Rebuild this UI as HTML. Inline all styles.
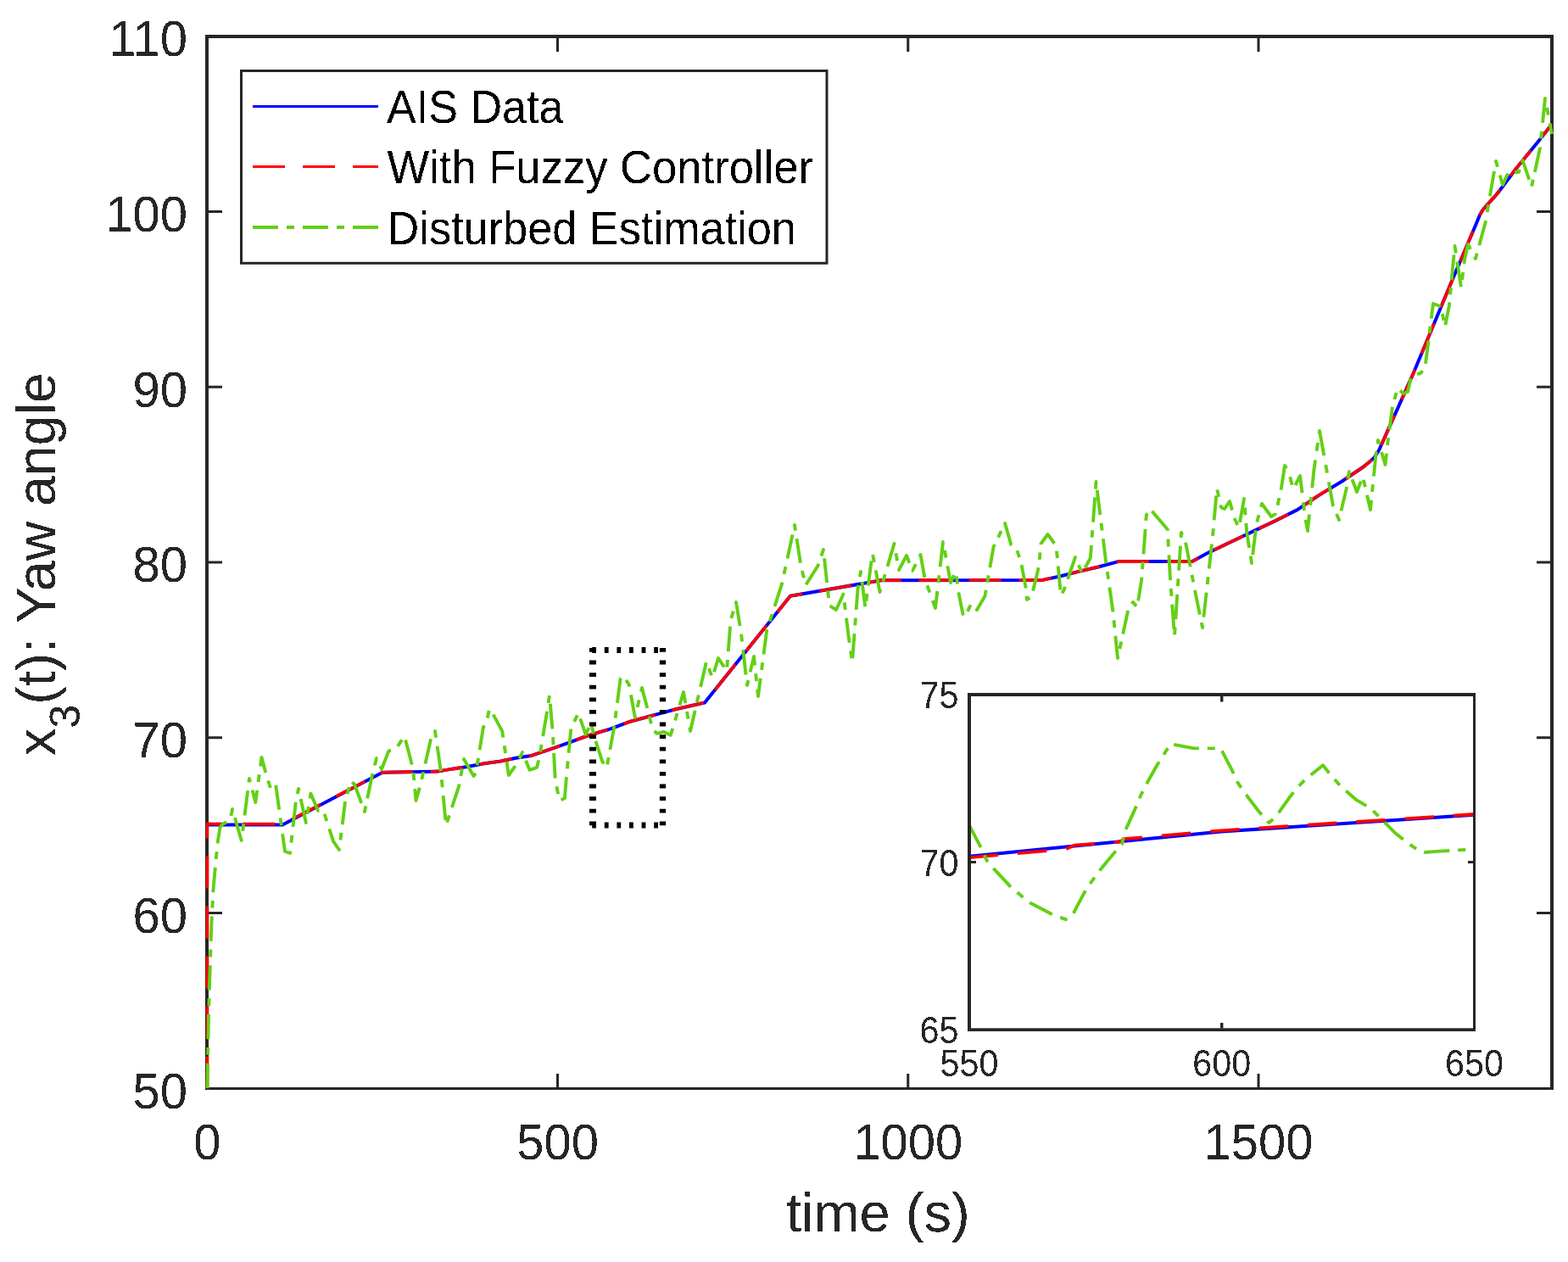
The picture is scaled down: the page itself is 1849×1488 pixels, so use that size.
<!DOCTYPE html><html><head><meta charset="utf-8"><title>x3(t): Yaw angle</title><style>html,body{margin:0;padding:0;background:#fff;overflow:hidden}svg{display:block}text{font-family:"Liberation Sans",Arial,Helvetica,sans-serif;filter:url(#bin)}</style></head><body>
<svg width="1849" height="1488" viewBox="0 0 1849 1488">
<rect x="0" y="0" width="1849" height="1488" fill="#fff"/>
<defs><filter id="bin" x="-5%" y="-5%" width="110%" height="110%"><feComponentTransfer><feFuncA type="discrete" tableValues="0 1"/></feComponentTransfer></filter><clipPath id="ci"><rect x="1143" y="819" width="595.5" height="395"/></clipPath></defs>
<g fill="#262626">
<rect x="242" y="41" width="4" height="1244"/>
<rect x="1828" y="41" width="4" height="1244"/>
<rect x="242" y="41" width="1590" height="4"/>
<rect x="242" y="1282" width="1590" height="3"/>
<rect x="656.00" y="1266" width="3" height="16"/>
<rect x="656.00" y="45" width="3" height="16"/>
<rect x="1069.25" y="1266" width="3" height="16"/>
<rect x="1069.25" y="45" width="3" height="16"/>
<rect x="1482.50" y="1266" width="3" height="16"/>
<rect x="1482.50" y="45" width="3" height="16"/>
<rect x="246" y="1075.00" width="16" height="3"/>
<rect x="1812" y="1075.00" width="16" height="3"/>
<rect x="246" y="868.25" width="16" height="3"/>
<rect x="1812" y="868.25" width="16" height="3"/>
<rect x="246" y="661.50" width="16" height="3"/>
<rect x="1812" y="661.50" width="16" height="3"/>
<rect x="246" y="454.75" width="16" height="3"/>
<rect x="1812" y="454.75" width="16" height="3"/>
<rect x="246" y="248.00" width="16" height="3"/>
<rect x="1812" y="248.00" width="16" height="3"/>
</g>
<text transform="translate(221.00,1306.65) scale(0.976,1)" font-size="59.4" fill="#262626" text-anchor="end">50</text>
<text transform="translate(221.00,1099.90) scale(0.976,1)" font-size="59.4" fill="#262626" text-anchor="end">60</text>
<text transform="translate(221.00,893.15) scale(0.976,1)" font-size="59.4" fill="#262626" text-anchor="end">70</text>
<text transform="translate(221.00,686.40) scale(0.976,1)" font-size="59.4" fill="#262626" text-anchor="end">80</text>
<text transform="translate(221.00,479.65) scale(0.976,1)" font-size="59.4" fill="#262626" text-anchor="end">90</text>
<text transform="translate(221.00,272.90) scale(0.976,1)" font-size="59.4" fill="#262626" text-anchor="end">100</text>
<text transform="translate(221.00,66.15) scale(0.976,1)" font-size="59.4" fill="#262626" text-anchor="end">110</text>
<text transform="translate(244.25,1366.60) scale(0.976,1)" font-size="59.4" fill="#262626" text-anchor="middle">0</text>
<text transform="translate(657.50,1366.60) scale(0.976,1)" font-size="59.4" fill="#262626" text-anchor="middle">500</text>
<text transform="translate(1070.75,1366.60) scale(0.976,1)" font-size="59.4" fill="#262626" text-anchor="middle">1000</text>
<text transform="translate(1484.00,1366.60) scale(0.976,1)" font-size="59.4" fill="#262626" text-anchor="middle">1500</text>
<text transform="translate(1035.30,1452.00) scale(1.0,1)" font-size="65" fill="#262626" text-anchor="middle">time (s)</text>
<text transform="translate(64.8,891) rotate(-90)" font-size="64.4" fill="#262626">x<tspan font-size="50.5" dy="28.8">3</tspan><tspan dy="-28.8">(t): Yaw angle</tspan></text>
<polyline points="244.2,972.5 333.2,972.5 451.0,910.8 516.0,909.6 534.5,906.4 552.7,903.8 570.9,900.2 589.2,897.7 609.8,893.5 626.7,890.9 646.1,884.4 668.2,876.6 692.9,867.5 720.0,859.4 743.3,850.7 780.6,840.6 797.7,836.0 831.0,828.5 931.9,702.8 1039.0,684.2 1229.3,683.9 1250.0,679.5 1271.0,674.1 1295.0,668.5 1318.7,662.1 1405.8,662.1 1426.0,651.1 1451.9,638.8 1477.9,626.4 1503.8,614.1 1529.8,601.1 1555.8,583.6 1581.7,568.0 1607.7,550.5 1615.0,544.5 1620.7,539.5 1626.0,531.0 1666.5,440.6 1710.8,334.2 1740.8,263.7 1745.1,253.3 1748.3,247.8 1752.6,242.7 1758.0,236.8 1766.1,227.7 1788.2,198.2 1813.6,167.2 1830.0,146.5" fill="none" stroke="#0000FF" stroke-width="4" stroke-linejoin="round"/>
<polyline points="244.5,1283.5 244.5,971.4 333.2,971.6 451.0,910.8 516.0,909.6 534.5,906.4 552.7,903.8 570.9,900.2 589.2,897.7 609.8,893.5 626.7,890.9 646.1,884.4 668.2,876.6 692.9,867.5 720.0,859.4 743.3,850.7 780.6,840.6 797.7,836.0 831.0,828.5 931.9,702.8 1039.0,684.2 1229.3,683.9 1250.0,679.5 1271.0,674.1 1295.0,668.5 1318.7,662.1 1405.8,662.1 1426.0,651.1 1451.9,638.8 1477.9,626.4 1503.8,614.1 1529.8,601.1 1555.8,583.6 1581.7,568.0 1607.7,550.5 1615.0,544.5 1620.7,539.5 1626.0,531.0 1666.5,440.6 1710.8,334.2 1740.8,263.7 1745.1,253.3 1748.3,247.8 1752.6,242.7 1758.0,236.8 1766.1,227.7 1788.2,198.2 1813.6,167.2 1830.0,146.5" fill="none" stroke="#FF0000" stroke-width="3.6" stroke-dasharray="38 21" stroke-linejoin="round"/>
<g fill="none" stroke="#62D014" stroke-width="3.9" stroke-linejoin="round">
<polyline points="244.5,1283.0 246.0,1197.0 247.8,1137.0 249.4,1090.0 251.4,1050.0 254.5,1015.0 257.0,991.0 259.5,975.5 262.7,971.7 271.3,966.9 274.0,954.0 284.7,991.0 294.0,918.0 301.3,946.0 308.5,893.0 315.0,917.5 319.0,929.0 325.0,924.0 333.1,983.2" stroke-dasharray="29.38 9.79 8.81 9.79"/>
<polyline points="333.1,983.2 336.0,1004.0 342.0,1006.0 345.5,974.9" stroke-dasharray="29.81 9.94 8.94 9.94"/>
<polyline points="345.5,974.9 348.7,946.7 352.0,930.0 360.8,970.0 366.4,935.6 374.9,955.8 381.0,954.8 393.1,992.1 400.0,1002.0 403.7,972.2" stroke-dasharray="29.33 9.78 8.80 9.78"/>
<polyline points="403.7,972.2 407.2,943.7 414.0,921.0 418.0,924.7 430.0,957.0 433.2,941.4" stroke-dasharray="27.51 9.17 8.25 9.17"/>
<polyline points="433.2,941.4 439.2,912.6 444.0,894.0 450.0,907.0 458.4,885.4 466.5,883.4 477.0,868.0 487.1,906.5 490.5,944.0 496.2,923.7 509.5,865.0 513.0,862.0 519.9,909.6 522.6,938.1" stroke-dasharray="29.93 9.98 8.98 9.98"/>
<polyline points="522.6,938.1 526.0,973.0 541.1,927.2 547.0,895.0 558.5,915.0 561.2,911.6 565.6,884.3" stroke-dasharray="29.00 9.67 8.70 9.67"/>
<polyline points="565.6,884.3 570.0,857.1 573.1,854.4 577.0,836.0 583.2,845.3 592.3,862.4 599.8,914.0 609.4,900.7 616.0,887.0 624.5,907.8 633.0,905.0 636.1,892.7 645.7,835.2 648.0,820.0 651.7,862.4 654.8,920.9 660.0,944.0 665.9,941.1 667.9,916.9 670.6,887.7" stroke-dasharray="29.72 9.91 8.92 9.91"/>
<polyline points="670.6,887.7 673.4,858.4 682.0,841.0 690.6,866.0 697.0,853.0 701.0,869.5 710.2,897.7 715.5,905.0 724.1,857.7 727.9,828.8" stroke-dasharray="28.30 9.43 8.49 9.43"/>
<polyline points="727.9,828.8 731.7,799.7 735.0,797.0 741.8,807.3 748.8,846.0 757.0,811.0 762.4,831.5 769.5,859.7 774.5,864.8 782.6,862.8 790.7,866.8 792.7,860.7 806.0,816.0 813.2,857.5" stroke-dasharray="29.61 9.87 8.88 9.87"/>
<polyline points="813.2,857.5 814.0,862.0 833.0,780.0 840.0,799.0 847.0,776.0 857.0,791.0 861.6,731.4 868.0,710.0 874.0,746.9 881.0,808.0 889.0,774.0 894.0,821.0 900.5,771.6" stroke-dasharray="29.50 9.83 8.85 9.83"/>
<polyline points="900.5,771.6 904.1,743.8 921.9,688.9 928.5,658.5" stroke-dasharray="29.73 9.91 8.92 9.91"/>
<polyline points="928.5,658.5 937.0,619.0 944.3,666.5 950.0,690.0 964.4,667.2 971.0,648.0 978.0,714.0 978.6,714.4" stroke-dasharray="28.85 9.62 8.66 9.62"/>
<polyline points="978.6,714.4 986.0,719.0 994.5,700.5 1000.7,750.7 1005.0,781.0 1011.5,694.5 1015.0,674.0 1020.4,716.8 1027.5,661.3 1029.0,653.0 1037.5,698.0 1046.5,667.9" stroke-dasharray="29.24 9.75 8.77 9.75"/>
<polyline points="1046.5,667.9 1054.5,640.9 1060.0,672.0 1069.0,655.0 1076.0,673.0 1085.5,654.0 1090.7,683.0 1103.0,717.0 1112.0,639.0 1121.0,687.0 1127.1,674.1 1130.3,698.3" stroke-dasharray="29.76 9.92 8.93 9.92"/>
<polyline points="1130.3,698.3 1130.3,698.3 1136.0,727.0 1141.0,721.0 1145.0,712.0 1152.0,719.0 1161.4,703.0 1171.5,645.2 1185.0,617.0 1192.4,642.5 1199.0,648.0 1204.0,663.0 1209.5,692.0 1211.0,707.0 1216.5,703.0 1218.1,696.6" stroke-dasharray="27.89 9.30 8.37 9.30"/>
<polyline points="1218.1,696.6 1225.0,668.0 1227.5,641.0 1235.5,630.0 1245.5,643.9 1251.0,702.0 1254.9,695.0 1268.0,657.0 1276.0,676.0 1285.8,658.0 1289.0,615.7" stroke-dasharray="28.20 9.40 8.46 9.40"/>
<polyline points="1289.0,615.7 1292.5,568.0 1304.2,662.9 1312.3,720.2 1315.3,749.8" stroke-dasharray="29.37 9.79 8.81 9.79"/>
<polyline points="1315.3,749.8 1318.0,776.0 1331.0,716.0 1336.0,710.0 1341.0,716.0 1346.1,683.9 1348.4,653.4" stroke-dasharray="28.22 9.41 8.47 9.41"/>
<polyline points="1348.4,653.4 1351.8,607.3 1356.0,600.0 1376.8,624.2 1380.0,683.1 1382.2,712.7" stroke-dasharray="29.70 9.90 8.91 9.90"/>
<polyline points="1382.2,712.7 1385.0,750.0 1393.0,628.0 1398.5,641.9 1409.8,700.0 1418.0,740.0 1430.0,632.3 1435.0,576.0 1440.0,598.4 1444.0,600.0 1450.0,591.0 1456.0,612.0 1461.0,622.0 1467.0,588.0 1470.3,628.4 1476.0,664.0 1481.6,617.9 1488.0,594.0 1499.0,609.0 1504.2,605.8 1510.6,577.6" stroke-dasharray="29.20 9.73 8.76 9.73"/>
<polyline points="1510.6,577.6 1510.6,577.6 1515.0,549.0 1519.5,555.8 1525.0,577.0 1533.0,561.0 1538.9,609.0 1542.0,626.0 1549.4,554.2 1556.0,508.0 1561.5,538.1 1566.9,568.4" stroke-dasharray="32.83 10.94 9.85 10.94"/>
<polyline points="1566.9,568.4 1571.9,596.1 1579.0,613.0 1587.6,576.6 1591.0,556.0 1600.0,580.0 1607.0,562.0 1616.0,601.0 1622.3,537.4 1625.0,519.0 1633.5,548.0 1637.0,517.0 1638.4,506.6" stroke-dasharray="29.16 9.72 8.75 9.72"/>
<polyline points="1638.4,506.6 1642.2,478.3 1648.0,458.0 1655.0,464.0 1660.0,462.0 1663.7,445.8 1668.0,442.0 1675.5,440.0 1680.7,431.0 1684.4,403.0 1690.0,358.0 1699.0,361.4 1704.0,385.0 1708.7,361.4 1711.7,330.3" stroke-dasharray="27.20 9.07 8.16 9.07"/>
<polyline points="1711.7,330.3 1715.5,290.0 1723.0,339.0 1727.0,306.5 1731.0,288.0 1740.0,305.0 1751.8,261.4 1764.0,190.0 1768.7,206.5" stroke-dasharray="30.07 10.02 9.02 10.02"/>
<polyline points="1768.7,206.5 1772.0,218.0 1778.8,203.0 1791.0,203.0 1795.5,189.0 1806.0,220.0 1809.8,203.0" stroke-dasharray="26.82 8.94 8.05 8.94"/>
<polyline points="1809.8,203.0 1816.0,174.7 1822.0,116.0 1830.0,158.0" stroke-dasharray="30.00 10.00 9.00 10.00"/>
</g>
<g stroke="#000" stroke-dasharray="4.8 9.8" fill="none">
<line x1="698.2" y1="766.4" x2="784.5" y2="766.4" stroke-width="7"/>
<line x1="698.2" y1="973.0" x2="784.5" y2="973.0" stroke-width="7"/>
<line x1="699.0" y1="764.0" x2="699.0" y2="976.0" stroke-width="8"/>
<line x1="781.5" y1="764.0" x2="781.5" y2="976.0" stroke-width="7.3"/>
</g>
<rect x="1143" y="819" width="595.5" height="395" fill="#fff"/>
<g clip-path="url(#ci)">
<polyline points="1142.7,1009.8 1440.0,980.6 1739.0,960.7" fill="none" stroke="#0000FF" stroke-width="4"/>
<polyline points="1142.7,1011.1 1256.8,1001.3 1267.4,996.5 1320.5,992.6 1325.8,989.1 1440.0,979.3 1739.0,960.0" fill="none" stroke="#FF0000" stroke-width="3.8" stroke-dasharray="34.5 23"/>
<polyline points="1142.7,972.6 1157.3,1000.5 1163.9,1015.1 1171.9,1024.4 1191.8,1045.6 1201.1,1053.6 1214.3,1064.2 1239.5,1077.5 1256.8,1084.1 1264.8,1078.8 1278.0,1053.6 1284.7,1043.0 1294.0,1029.7 1312.5,1007.2 1323.2,995.2 1325.8,981.9 1337.8,955.4 1344.4,939.5 1351.0,926.2 1364.3,902.3 1373.6,887.7 1380.2,877.1 1408.1,882.4 1439.3,882.4 1452.6,907.6 1459.2,922.2 1467.2,934.1 1484.4,956.7 1496.3,970.0 1504.3,963.3 1520.2,940.8 1529.5,928.8 1540.1,918.2 1560.0,902.3 1570.7,915.5 1581.3,927.5 1599.9,943.4 1615.8,952.7 1627.7,964.6 1645.0,981.9 1659.6,993.8 1671.5,1001.8 1679.5,1005.0 1698.0,1003.6 1739.0,1001.3" fill="none" stroke="#62D014" stroke-width="3.9" stroke-dasharray="30 10 9 10" stroke-linejoin="round"/>
</g>
<g fill="#262626">
<rect x="1141" y="817" width="4" height="399"/>
<rect x="1737" y="817" width="3" height="399"/>
<rect x="1141" y="817" width="599" height="4"/>
<rect x="1141" y="1212.3" width="599" height="3.7"/>
<rect x="1439.05" y="1206" width="3.4" height="6.5"/>
<rect x="1439.05" y="821" width="3.4" height="6.5"/>
<rect x="1145" y="1015.00" width="6" height="3"/>
<rect x="1731" y="1015.00" width="6" height="3"/>
</g>
<text transform="translate(1130.40,1230.40) scale(0.925,1)" font-size="44.6" fill="#262626" text-anchor="end">65</text>
<text transform="translate(1130.40,1032.90) scale(0.925,1)" font-size="44.6" fill="#262626" text-anchor="end">70</text>
<text transform="translate(1130.40,835.40) scale(0.925,1)" font-size="44.6" fill="#262626" text-anchor="end">75</text>
<text transform="translate(1143.00,1268.90) scale(0.925,1)" font-size="44.6" fill="#262626" text-anchor="middle">550</text>
<text transform="translate(1440.75,1268.90) scale(0.925,1)" font-size="44.6" fill="#262626" text-anchor="middle">600</text>
<text transform="translate(1738.50,1268.90) scale(0.925,1)" font-size="44.6" fill="#262626" text-anchor="middle">650</text>
<rect x="284.5" y="83.5" width="690.5" height="226.8" fill="#fff" stroke="#262626" stroke-width="3"/>
<line x1="298" y1="125.5" x2="446" y2="125.5" stroke="#0000FF" stroke-width="3"/>
<line x1="298" y1="196.5" x2="446" y2="196.5" stroke="#FF0000" stroke-width="3" stroke-dasharray="38 21"/>
<line x1="298" y1="268" x2="446" y2="268" stroke="#62D014" stroke-width="4" stroke-dasharray="30 10 9 10"/>
<text transform="translate(456.00,145.00) scale(0.947,1)" font-size="55" fill="#000">AIS Data</text>
<text transform="translate(456.50,216.00) scale(0.956,1)" font-size="55" fill="#000">With Fuzzy Controller</text>
<text transform="translate(456.50,288.00) scale(0.951,1)" font-size="55" fill="#000">Disturbed Estimation</text>
</svg></body></html>
